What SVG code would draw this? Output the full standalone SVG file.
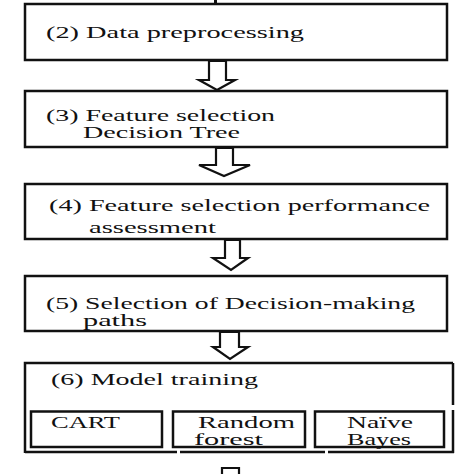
<svg xmlns="http://www.w3.org/2000/svg" width="474" height="474" viewBox="0 0 474 474">
<style>
.box{fill:#fff;stroke:#111;stroke-width:2.5}
.ln{stroke:#111;stroke-width:2.5;fill:none}
.arr{fill:#fff;stroke:#111;stroke-width:2.2;stroke-linejoin:miter}
text{font-family:"Liberation Serif","Times New Roman",serif;font-size:17px;fill:#111}
</style>
<rect width="474" height="474" fill="#fff"/>
<g id="connectors">
<line x1="215.5" y1="0" x2="215.5" y2="3.5" stroke="#111" stroke-width="3"/>
<polygon class="arr" points="209,61 226,61 226,80 235,80 217,90 199,80 209,80"/>
<polygon class="arr" points="216,148 233,148 233,165 250,165 224,176 199,165 216,165"/>
<polygon class="arr" points="225,240 240,240 240,258 248,258 231,270 213,258 225,258"/>
<polygon class="arr" points="220,332 239,332 239,347 248,347 230,359 213,347 220,347"/>
<polyline class="arr" points="222,476 222,468 239,468 239,476"/>
</g>
<g id="n2">
<rect class="box" x="25" y="4" width="422" height="56"/>
<text x="46" y="37.5" textLength="258" lengthAdjust="spacingAndGlyphs">(2) Data preprocessing</text>
</g>
<g id="n3">
<rect class="box" x="25" y="91" width="422" height="56"/>
<text x="46" y="120.5" textLength="229" lengthAdjust="spacingAndGlyphs">(3) Feature selection</text>
<text x="83" y="138" textLength="157" lengthAdjust="spacingAndGlyphs">Decision Tree</text>
</g>
<g id="n4">
<rect class="box" x="25" y="184" width="422" height="55"/>
<text x="49" y="210.5" textLength="381" lengthAdjust="spacingAndGlyphs">(4) Feature selection performance</text>
<text x="89" y="232.5" textLength="127" lengthAdjust="spacingAndGlyphs">assessment</text>
</g>
<g id="n5">
<rect class="box" x="25" y="276" width="422" height="55"/>
<text x="46" y="308.5" textLength="369" lengthAdjust="spacingAndGlyphs">(5) Selection of Decision-making</text>
<text x="83" y="326" textLength="64" lengthAdjust="spacingAndGlyphs">paths</text>
</g>
<g id="n6">
<polyline class="ln" points="25,453 25,363 453,363"/>
<line class="ln" x1="453" y1="363" x2="453" y2="405"/>
<line class="ln" x1="453" y1="410" x2="453" y2="453"/>
<line class="ln" x1="25" y1="452" x2="177" y2="452"/>
<line class="ln" x1="180" y1="452" x2="325" y2="452"/>
<line class="ln" x1="328" y1="452" x2="454" y2="452"/>
<text x="51" y="384.5" textLength="207" lengthAdjust="spacingAndGlyphs">(6) Model training</text>
</g>
<g id="cart">
<rect class="box" x="31" y="411.5" width="131" height="35.5"/>
<text x="51" y="427.5" textLength="69" lengthAdjust="spacingAndGlyphs">CART</text>
</g>
<g id="rf">
<rect class="box" x="173" y="411.5" width="132" height="35.5"/>
<text x="198" y="427.5" textLength="97" lengthAdjust="spacingAndGlyphs">Random</text>
<text x="194" y="445" textLength="69" lengthAdjust="spacingAndGlyphs">forest</text>
</g>
<g id="nb">
<rect class="box" x="315" y="411.5" width="129" height="35.5"/>
<text x="347" y="427.5" textLength="66" lengthAdjust="spacingAndGlyphs">Naïve</text>
<text x="347" y="445" textLength="64" lengthAdjust="spacingAndGlyphs">Bayes</text>
</g>
</svg>
